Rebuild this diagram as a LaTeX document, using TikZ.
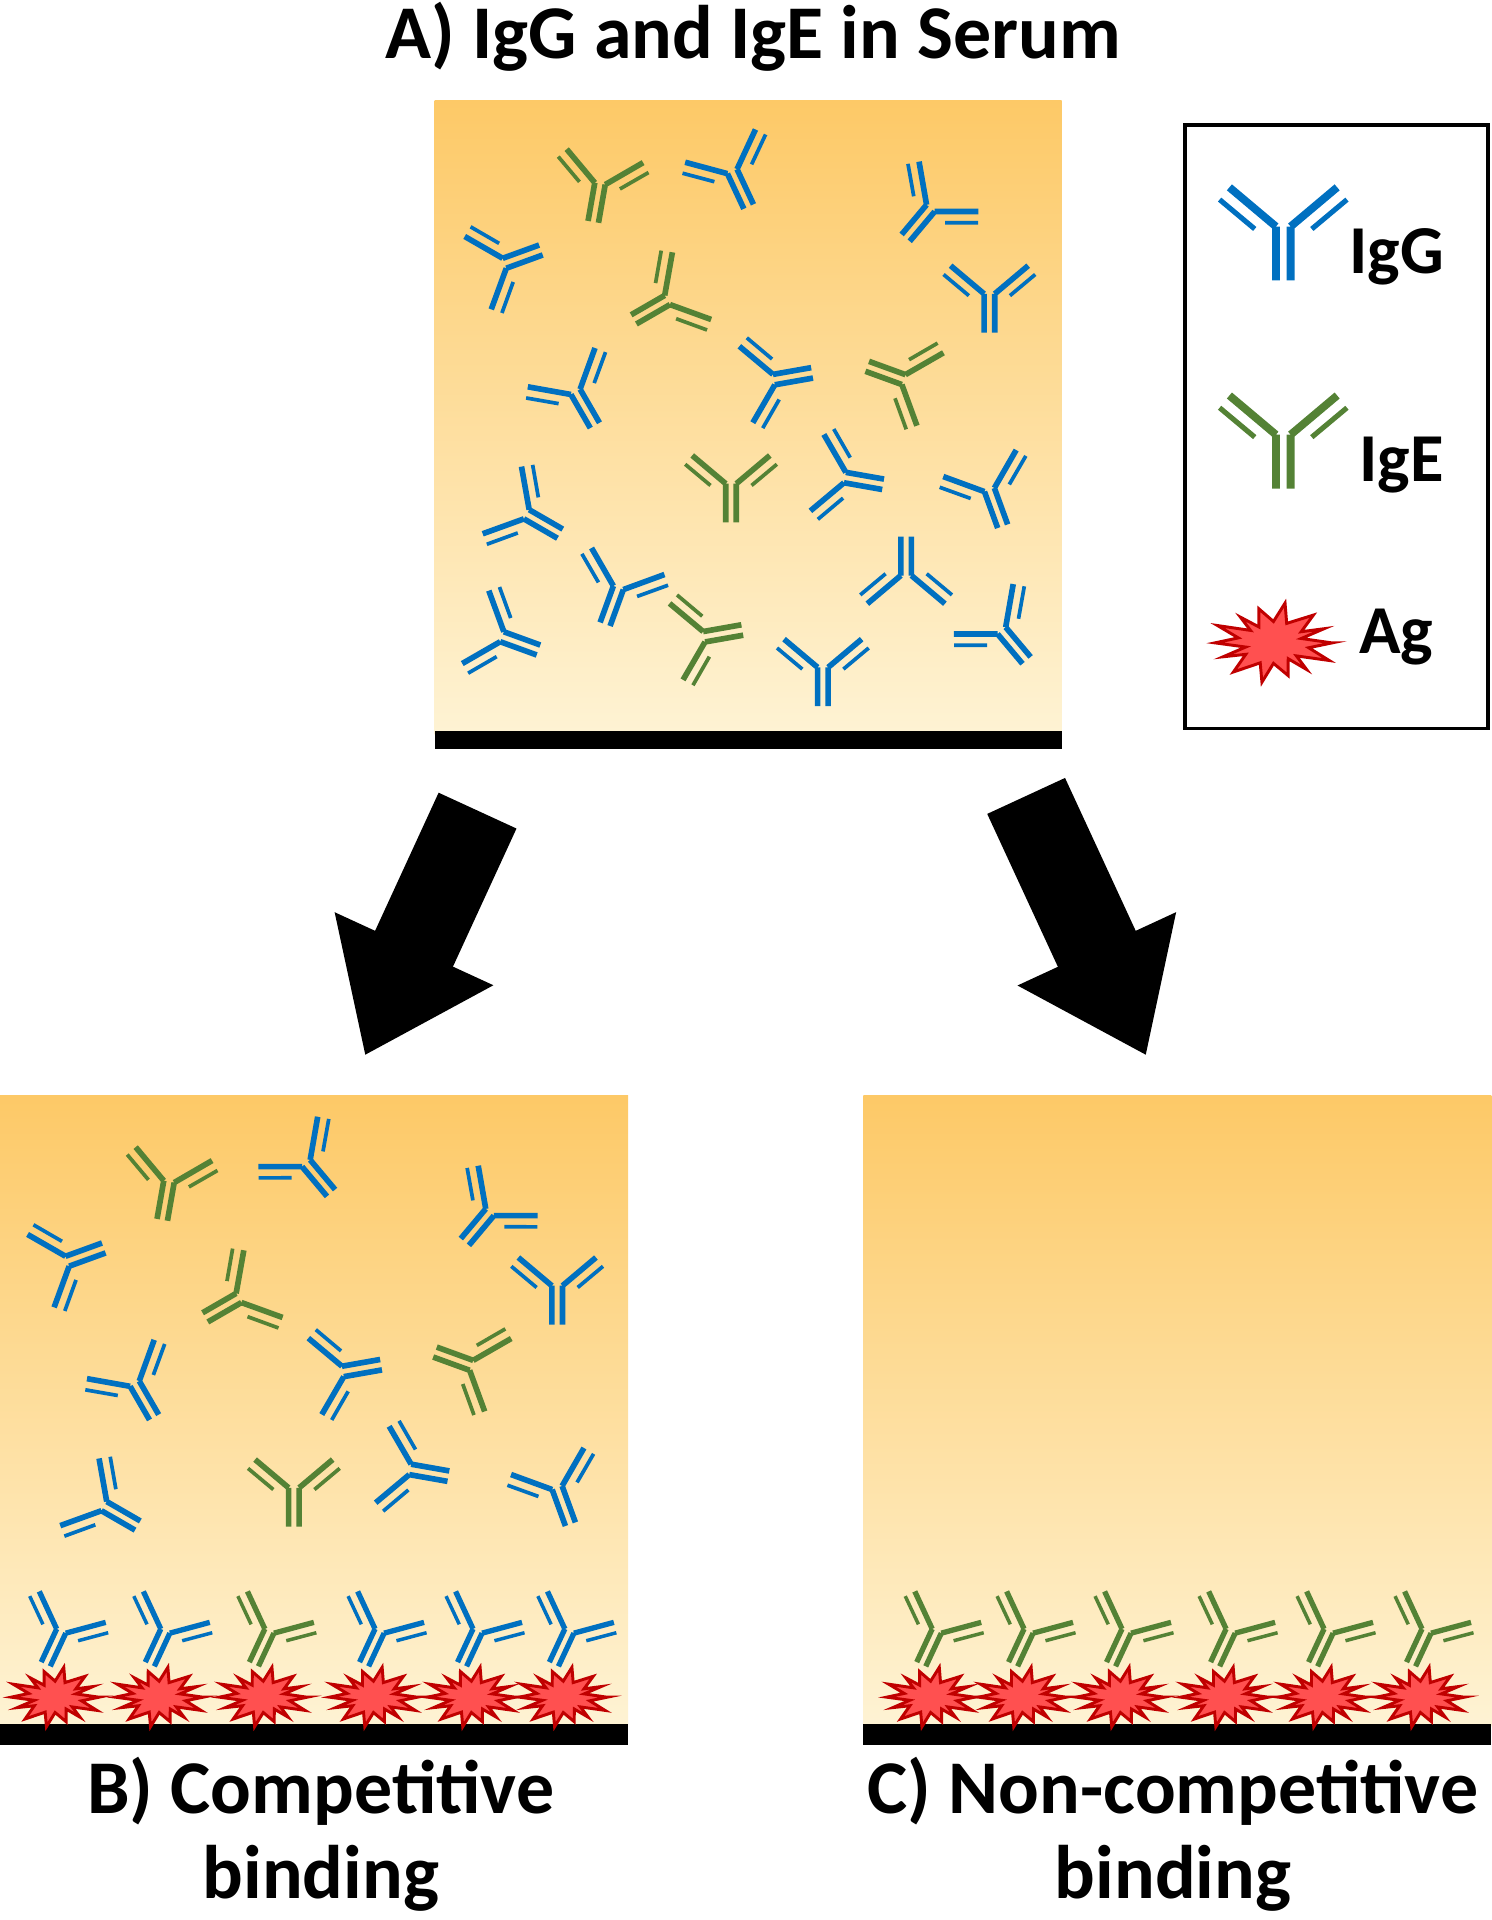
\documentclass[tikz,border=0pt]{standalone}
\usepackage{fontspec}
\setmainfont{Carlito}
\usetikzlibrary{arrows.meta}
\definecolor{igg}{HTML}{0070C0}
\definecolor{ige}{HTML}{548235}
\definecolor{agfill}{HTML}{FF5050}
\definecolor{agline}{HTML}{C00000}
\definecolor{otop}{HTML}{FDC967}
\definecolor{obot}{HTML}{FEF3D4}
\newcommand\ab[5]{%
\begin{scope}[shift={(#1,#2)},rotate=#3,scale=#5,draw=#4,line cap=butt]
\draw[line width=#5*3.2pt] (-6,0)--(-6,44) (6,0)--(6,44) (-6,0)--(-44,-32) (6,0)--(44,-32);
\draw[line width=#5*2.1pt] (-23.3,2)--(-52,-22) (23.3,2)--(52,-22);
\end{scope}}
\newcommand\ag[3]{%
\filldraw[fill=agfill,draw=agline,line width=1.2pt,line join=miter]
plot[samples=29,domain=0:28] ({#1+(mod(\x,2)==0 ? 1 : 0.55)*#3*(1+0.12*sin(\x*77))*cos(\x*360/28)},{#2+(mod(\x,2)==0 ? 1 : 0.55)*0.62*#3*(1+0.12*sin(\x*53))*sin(\x*360/28)}) -- cycle;}
\tikzset{panel/.style={top color=otop,bottom color=obot,draw=none},
bar/.style={fill=black},
lab/.style={font=\fontsize{31}{35}\selectfont\bfseries,align=center},
leg/.style={font=\fontsize{28}{34}\selectfont\bfseries},
blk/.style={line width=35pt,-{Triangle[length=48pt,width=68pt]},black}}
\begin{document}
\begin{tikzpicture}[x=0.5pt,y=-0.5pt]
\useasboundingbox (0,0) rectangle (1218,1568);
% panels
\shade[panel] (355,82) rectangle (867,600);
\fill[bar] (355,597) rectangle (867,612);
\shade[panel] (0,895) rectangle (513,1410);
\fill[bar] (0,1408) rectangle (513,1425);
\shade[panel] (705,895) rectangle (1218,1410);
\fill[bar] (705,1408) rectangle (1218,1425);
\node[lab] (ta) at (615,30) {A) IgG and IgE in Serum};
\node[lab] (tb) at (262,1498) {B) Competitive\\binding};
\node[lab] (tc) at (958,1498) {C) Non-competitive\\binding};
% arrows
\coordinate (a1) at (390,662); \coordinate (a2) at (298,862);
\coordinate (b1) at (838,650); \coordinate (b2) at (936,862);
\draw[blk] (a1)--(a2);
\draw[blk] (b1)--(b2);
% legend
\draw[line width=1.5pt] (968,102) rectangle (1215,595);
\ab{1048}{185}{0}{igg}{1}
\ab{1048}{355}{0}{ige}{1}
\ag{1040}{525}{48}
\node[leg,anchor=west] (lg) at (1095,210) {IgG};
\node[leg,anchor=west] (le) at (1103,380) {IgE};
\node[leg,anchor=west] (la) at (1103,520) {Ag};
% panel A antibodies
\foreach \p/\q/\a/\c in {490/150/-10/ige,598/140/25/igg,760/170/-40/igg,808/240/0/igg,412/215/110/igg,545/245/-60/ige,470/320/30/igg,632/310/100/igg,738/310/-110/ige,597/395/0/ige,690/390/80/igg,808/400/20/igg,430/420/60/igg,505/480/-20/igg,740/470/180/igg,410/520/70/igg,575/520/100/ige,672/545/0/igg,818/515/40/igg}
  {\ab{\p}{\q}{\a}{\c}{0.72}}
% panel B free antibodies
\foreach \p/\q/\a/\c in {138/965/-10/ige,250/950/40/igg,400/990/-40/igg,455/1050/0/igg,55/1030/110/igg,195/1060/-60/ige,110/1130/30/igg,280/1120/100/igg,385/1115/-110/ige,240/1215/0/ige,335/1200/80/igg,455/1215/20/igg,85/1230/60/igg}
  {\ab{\p}{\q}{\a}{\c}{0.72}}
% bound
\foreach \p/\c in {45/igg,130/igg,215/ige,305/igg,385/igg,460/igg}
  {\ag{\p}{1386}{36}\ab{\p+5}{1332}{-25}{\c}{0.68}}
\foreach \p in {760,835,915,1000,1080,1160}
  {\ag{\p}{1386}{36}\ab{\p+5}{1332}{-25}{ige}{0.68}}
\end{tikzpicture}
\end{document}
